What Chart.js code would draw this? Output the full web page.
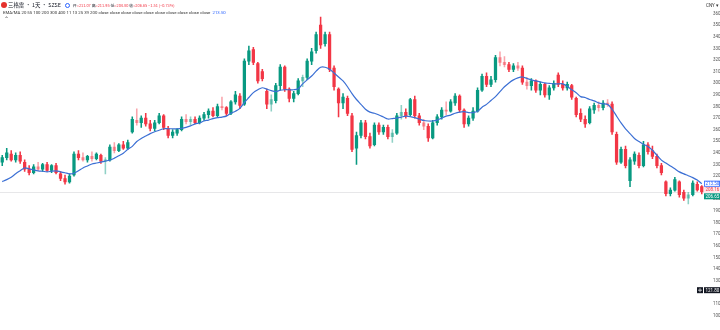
<!DOCTYPE html>
<html>
<head>
<meta charset="utf-8">
<script src="https://cdn.jsdelivr.net/npm/chart.js@4.4.1/dist/chart.umd.min.js"></script>
<style>
  body { margin: 0; background: #fff; }
  #wrap { position: relative; width: 720px; height: 330px; overflow: hidden; }
  #chart { position: absolute; left: 0; top: 0; }
  .hdr { position: absolute; left: 1px; white-space: nowrap; color: #131722;
         font-family: Roboto, "Noto Sans CJK SC", sans-serif; }
  #l1 { top: 1px; font-size: 5.5px; line-height: 9px; }
  #l2 { top: 9px; left: 3px; font-size: 4.3px; line-height: 7px; color: #333; }
  #l3 { top: 15px; left: 4px; font-size: 6px; line-height: 8px; color: #444; }
  .sym { font-family: "Noto Sans CJK SC", sans-serif; font-size: 5.4px; }
  .logo { display: inline-block; width: 6px; height: 6px; border-radius: 50%;
          background: #e5322d; vertical-align: -1px; margin-right: 1px; }
  .dot { display: inline-block; width: 5px; height: 5px; border-radius: 50%;
         border: 1.2px solid #2962ff; box-sizing: border-box; vertical-align: -1px;
         margin: 0 3px 0 4px; }
  .ohlc { font-family: "Noto Sans CJK SC", sans-serif; font-size: 3.9px; }
  .r { color: #f23645; }
  .b { color: #2962ff; }
</style>
</head>
<body>
<div id="wrap">
  <canvas id="chart" width="720" height="330"></canvas>
  <div class="hdr" id="l1"><span class="logo"></span><span class="sym">三格雷 · 1天 · SZSE</span><span class="dot"></span><span class="ohlc">开<span class="r">=211.07</span> 高<span class="r">=211.95</span> 低<span class="r">=204.80</span> 收<span class="r">=206.65 −1.51 (−0.73%)</span></span></div>
  <div class="hdr" id="l2">EMA/MA 20 55 100 200 300 400 11 13 25 39 200 close close close close close close close close close close &nbsp;<span class="b" id="emaTxt"></span></div>
  <div class="hdr" id="l3">⌃</div>
</div>
<script>
// ───── Daily candles + EMA ─────────────────────────────────────────────────
const opens = [
  232,236,239,234,238,232,226,223,228,226, 230,225,229,222,218,215,221,239,236,234,
  237,235,238,233,234,245,242,247,244,258, 268,266,270,265,261,266,272,261,255,257,
  260,269,267,269,266,270,273,276,272,280, 279,274,284,289,282,319,329,317,310,293,
  282,285,298,314,295,287,291,302,305,319, 328,350,334,342,313,295,283,287,272,244,
  255,266,254,247,264,258,262,254,257,272, 275,273,286,272,266,263,253,266,271,277,
  276,283,289,277,265,270,276,294,306,299, 303,322,318,316,312,315,313,301,298,302,
  294,299,290,296,307,299,296,298,287,274, 269,266,277,281,279,283,282,256,232,243,
  216,233,238,229,247,242,237,229,215,205, 208,215,206,201,204,213,211.07
];
const highs = [
  238,244,242,240,241,234,229,230,232,231, 232,230,231,224,221,222,241,242,240,238,
  241,240,239,236,247,249,248,250,251,271, 278,272,274,268,268,274,273,263,260,261,
  271,273,271,271,272,275,278,279,282,288, 280,285,293,291,321,332,331,318,312,295,
  290,300,316,315,296,293,304,307,321,330, 344,357,344,344,315,296,291,289,274,258,
  268,268,257,266,266,264,264,260,274,281, 278,287,289,274,269,265,268,273,279,284,
  286,291,290,278,272,279,296,308,309,306, 324,327,323,318,317,318,315,305,304,303,
  301,300,298,302,309,302,301,299,288,278, 272,280,283,284,285,286,284,258,245,246,
  236,241,240,250,249,246,239,231,216,210, 219,216,208,206,216,215,211.95
];
const lows = [
  229,234,233,232,231,224,221,222,225,224, 224,223,222,216,213,214,220,234,233,232,
  233,234,231,222,233,240,241,243,243,257, 264,262,263,259,259,265,260,253,253,255,
  259,265,264,265,265,268,270,271,271,277, 272,273,282,278,281,316,316,300,302,278,
  276,283,294,293,284,284,290,297,303,316, 326,330,332,310,294,271,278,272,241,230,
  253,252,244,246,256,256,252,249,256,269, 270,272,270,264,260,250,252,264,269,273,
  275,281,275,262,263,268,275,293,297,297, 301,315,314,310,310,311,299,295,294,292,
  290,288,286,294,297,294,294,286,271,267, 262,265,274,276,277,280,256,230,231,227,
  211,230,227,228,239,235,227,221,203,203, 207,202,199,196,203,207,204.80
];
const closes = [
  236,240,234,238,233,226,223,228,226,230, 225,229,223,218,215,220,239,236,234,237,
  235,239,233,234,245,242,247,244,249,269, 266,270,265,261,266,272,262,255,258,260,
  269,267,269,266,270,273,276,272,280,279, 274,284,290,281,319,328,318,302,304,282,
  286,298,314,295,287,291,302,305,319,327, 342,333,342,312,297,283,288,274,243,255,
  266,254,246,264,258,262,254,257,272,275, 272,286,272,266,263,253,266,271,277,276,
  284,289,277,265,270,276,294,306,299,303, 322,318,316,312,315,313,301,298,302,294,
  299,290,296,300,299,296,299,288,273,269, 265,278,281,279,283,282,258,232,243,229,
  234,239,229,247,241,237,229,223,205,208, 217,204,201,204,214,208.16,206.65
];
const emaVals = [
  215.3,217.0,219.1,222.0,224.6,227.1,226.3,225.4,224.6,224.2,
  223.7,224.2,224.6,223.7,222.9,222.0,222.5,224.6,227.1,228.8,
  230.5,231.3,232.1,233.0,233.8,235.5,237.6,239.7,243.1,245.6,
  249.8,252.4,254.5,256.6,258.2,259.5,260.8,260.8,260.8,260.8,
  261.2,262.0,263.3,265.0,265.8,267.5,268.3,269.6,270.4,270.9,
  271.7,274.2,275.9,278.4,283.5,287.7,291.9,294.4,296.1,294.9,
  293.6,292.8,294.0,294.4,294.4,294.4,295.3,299.5,302.9,306.2,
  310.4,313.8,313.8,312.1,308.8,305.4,302.0,297.0,291.1,286.0,
  281.8,277.6,275.1,274.2,272.6,270.9,269.2,269.6,270.0,270.9,
  271.7,271.3,270.4,269.2,267.9,267.5,267.5,268.3,270.0,271.7,
  272.6,274.2,275.1,275.5,274.7,274.7,275.9,279.3,281.8,285.2,
  288.5,292.8,297.0,300.3,302.9,304.6,305.4,304.1,302.9,302.0,
  301.2,300.3,299.9,299.5,299.5,299.5,297.4,294.4,291.9,288.5,
  287.7,286.0,284.8,283.1,282.3,281.8,277.6,271.7,265.8,260.8,
  256.6,252.4,249.8,247.3,245.6,242.3,238.0,233.8,231.3,228.8,
  226.3,223.7,222.0,220.4,218.7,216.6,213.5
];
const prevClose = 208.16;
const alertLevel = 121.80;
const priceMin = 90.7;
const priceMax = 368.5;

const UP = '#089981';
const DOWN = '#f23645';

const labels = closes.map((_, i) => i);
const last = closes.length - 1;

document.getElementById('emaTxt').textContent = emaVals[last].toFixed(2);

// Thin-bodied candles read lighter, the way they do on the live chart.
const candleColors = closes.map((c, i) => {
  const up = c >= opens[i];
  const range = highs[i] - lows[i] || 1;
  const thin = Math.abs(c - opens[i]) / range < 0.35;
  if (thin) return up ? 'rgba(8,153,129,0.45)' : 'rgba(242,54,69,0.45)';
  return up ? UP : DOWN;
});

function drawTag(ctx, x, y, text, fill, stroke, color) {
  const w = 16, h = 6;
  ctx.fillStyle = fill;
  ctx.fillRect(x, y - h / 2, w, h);
  if (stroke) {
    ctx.strokeStyle = stroke;
    ctx.lineWidth = 0.8;
    ctx.strokeRect(x + 0.4, y - h / 2 + 0.4, w - 0.8, h - 0.8);
  }
  ctx.fillStyle = color;
  ctx.textAlign = 'left';
  ctx.textBaseline = 'middle';
  ctx.fillText(text, x + 1.5, y + 0.3);
}

const overlay = {
  id: 'overlay',
  beforeDatasetsDraw(chart) {
    const { ctx, chartArea, scales } = chart;
    const y = Math.round(scales.y.getPixelForValue(closes[last])) + 0.5;
    ctx.save();
    ctx.strokeStyle = 'rgba(120,123,134,0.18)';
    ctx.lineWidth = 1;
    ctx.beginPath();
    ctx.moveTo(chartArea.left, y);
    ctx.lineTo(chartArea.right, y);
    ctx.stroke();
    ctx.restore();
  },
  afterDraw(chart) {
    const { ctx, chartArea, scales } = chart;
    const x = chartArea.right;
    ctx.save();
    ctx.font = '4.5px Roboto, sans-serif';

    ctx.fillStyle = '#333';
    ctx.textBaseline = 'middle';
    ctx.fillText('CNY ▾', x + 2, 6);

    // last-value tags, pushed apart so they never overlap
    const tags = [
      { v: emaVals[last], fill: '#fff', stroke: '#2962ff', color: '#2962ff' },
      { v: prevClose, fill: '#fde9eb', stroke: null, color: DOWN },
      { v: closes[last], fill: UP, stroke: null, color: '#fff' },
    ].map((t) => ({ ...t, y: scales.y.getPixelForValue(t.v) }))
     .sort((a, b) => a.y - b.y);
    for (let i = 1; i < tags.length; i++) {
      if (tags[i].y - tags[i - 1].y < 6.3) tags[i].y = tags[i - 1].y + 6.3;
    }
    tags.forEach((t) => drawTag(ctx, x, t.y, t.v.toFixed(2), t.fill, t.stroke, t.color));

    // alert level tag with its bell button
    const ay = scales.y.getPixelForValue(alertLevel);
    drawTag(ctx, x, ay, alertLevel.toFixed(2), '#131722', null, '#fff');
    ctx.fillStyle = '#131722';
    ctx.fillRect(x - 7, ay - 3, 6, 6);
    ctx.strokeStyle = '#fff';
    ctx.lineWidth = 0.7;
    ctx.beginPath();
    ctx.moveTo(x - 4, ay - 2); ctx.lineTo(x - 4, ay + 2);
    ctx.moveTo(x - 6, ay); ctx.lineTo(x - 2, ay);
    ctx.stroke();
    ctx.restore();
  },
};

new Chart(document.getElementById('chart'), {
  data: {
    labels,
    datasets: [
      {
        type: 'line',
        label: 'EMA',
        data: emaVals,
        borderColor: '#3b6fd4',
        borderWidth: 1.2,
        pointRadius: 0,
        tension: 0.3,
        order: 0,
      },
      {
        type: 'bar',
        label: 'body',
        data: opens.map((o, i) => [Math.min(o, closes[i]), Math.max(o, closes[i])]),
        backgroundColor: candleColors,
        barThickness: 2.6,
        minBarLength: 1,
        grouped: false,
        order: 1,
      },
      {
        type: 'bar',
        label: 'wick',
        data: lows.map((l, i) => [l, highs[i]]),
        backgroundColor: candleColors,
        barThickness: 0.9,
        grouped: false,
        order: 2,
      },
    ],
  },
  options: {
    responsive: false,
    animation: false,
    devicePixelRatio: 1,
    layout: { padding: 0 },
    plugins: { legend: { display: false }, tooltip: { enabled: false } },
    scales: {
      x: { display: false, offset: true },
      y: {
        position: 'right',
        min: priceMin,
        max: priceMax,
        grid: { display: false },
        border: { display: false },
        afterFit: (s) => { s.width = 16; },
        ticks: {
          stepSize: 10,
          includeBounds: false,
          padding: 1,
          color: '#555',
          font: { family: 'Roboto', size: 4.5 },
          callback: (v) => v.toFixed(2),
        },
      },
    },
  },
  plugins: [overlay],
});
</script>
</body>
</html>
